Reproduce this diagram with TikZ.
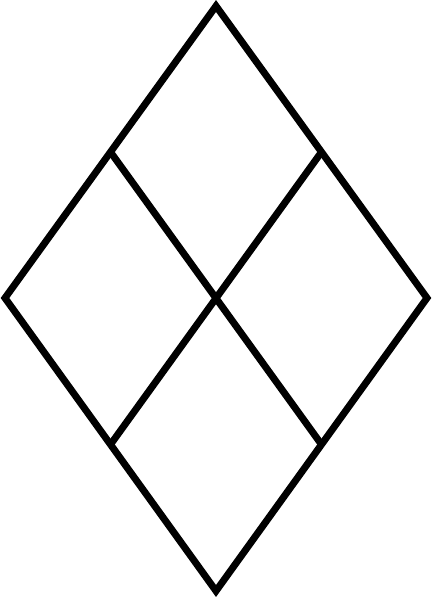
\documentclass[tikz,border=0pt]{standalone}
\usepackage{xcolor}
\usetikzlibrary{calc}

\begin{document}
\begin{tikzpicture}[x=1pt,y=1pt,yscale=-1,xscale=1]
\useasboundingbox (0,0) rectangle (432,599);

%Corners of the rhombus
\coordinate (top) at (216,6);
\coordinate (rgt) at (427,298);
\coordinate (bot) at (216,591);
\coordinate (lft) at (5,298);

%Midpoints of the sides
\coordinate (tl) at ($(top)!0.5!(lft)$);
\coordinate (tr) at ($(top)!0.5!(rgt)$);
\coordinate (br) at ($(bot)!0.5!(rgt)$);
\coordinate (bl) at ($(bot)!0.5!(lft)$);

%Shape: Rhombus
\draw  [line width=7pt, miter limit=10] (top) -- (rgt) -- (bot) -- (lft) -- cycle ;
%Straight Lines
\draw  [line width=7pt] (tl) -- (br) ;
\draw  [line width=7pt] (tr) -- (bl) ;

\end{tikzpicture}
\end{document}
